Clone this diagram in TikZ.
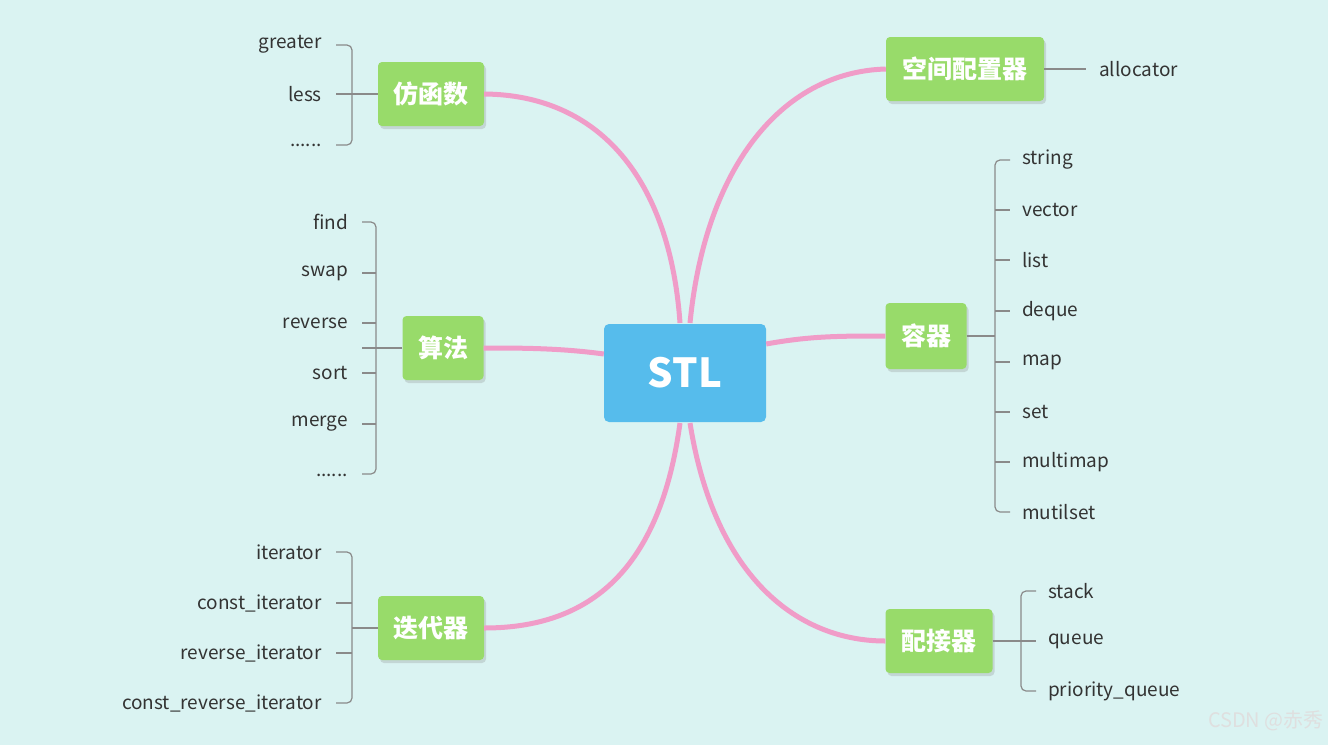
\documentclass[tikz,border=0pt]{standalone}
\usepackage{fontspec}
\setmainfont{Noto Sans CJK SC}
\usetikzlibrary{shadows}
\definecolor{bg}{HTML}{DAF3F2}
\definecolor{stlc}{HTML}{56BCEC}
\definecolor{gr}{HTML}{98DB6A}
\definecolor{pk}{HTML}{F09CC8}
\definecolor{ln}{HTML}{8A8A8A}
\definecolor{tx}{HTML}{333333}
\tikzset{
 topic/.style={fill=gr,rounded corners=4pt,text=white,font=\fontsize{25}{28}\selectfont\bfseries,minimum height=64pt,inner xsep=0pt,drop shadow={shadow xshift=2pt,shadow yshift=-3pt,opacity=0.25}},
 leafL/.style={anchor=east,text=tx,font=\fontsize{19}{22}\selectfont,inner sep=0pt},
 leafR/.style={anchor=west,text=tx,font=\fontsize{19}{22}\selectfont,inner sep=0pt},
 br/.style={draw=ln,line width=1.2pt,rounded corners=5pt},
 tk/.style={draw=ln,line width=1.2pt},
 pl/.style={draw=pk,line width=5pt}
}
\begin{document}
\begin{tikzpicture}[x=1pt,y=-1pt]
\fill[bg] (0,0) rectangle (1328,745);
\useasboundingbox (0,0) rectangle (1328,745);
\node[fill=stlc,rounded corners=5pt,text=white,font=\fontsize{40}{44}\selectfont\bfseries,minimum width=162pt,minimum height=98pt] (stl) at (685,373) {STL};
\node[topic,minimum width=106pt] (fhs) at (431,94) {仿函数};
\node[topic,minimum width=81pt] (sf) at (443,348) {算法};
\node[topic,minimum width=106pt] (ddq) at (431,628) {迭代器};
\node[topic,minimum width=158pt] (kj) at (965,69) {空间配置器};
\node[topic,minimum width=81pt,minimum height=66pt] (rq) at (926,336) {容器};
\node[topic,minimum width=107pt] (pj) at (939,641) {配接器};
% pink connectors
\coordinate (s1) at (680,323);\coordinate (s2) at (690,323);
\coordinate (s3) at (680,423);\coordinate (s4) at (690,423);
\draw[pl] (s1) .. controls (670,180) and (600,95) .. (fhs.east);
\draw[pl] (s2) .. controls (705,170) and (780,72) .. (kj.west);
\draw[pl] (stl.west|-0,354) .. controls (560,348) and (520,348) .. (sf.east);
\draw[pl] (stl.east|-0,344) .. controls (810,336) and (840,336) .. (rq.west);
\draw[pl] (s3) .. controls (660,570) and (590,628) .. (ddq.east);
\draw[pl] (s4) .. controls (715,580) and (800,641) .. (pj.west);
% 仿函数
\coordinate (b1) at (352,94);
\draw[tk] (fhs.west) -- (336,94);
\draw[br] (336,45) -- (352,45) -- (352,145) -- (336,145);
\node[leafL] (a1) at (322,44) {greater};
\node[leafL] (a2) at (322,94) {less};
\node[leafL] (a3) at (322,145) {......};
% 算法
\draw[tk] (sf.west) -- (362,348);
\draw[br] (362,222) -- (376,222) -- (376,474) -- (362,474);
\foreach \y in {273,323,373,424} \draw[tk] (362,\y) -- (376,\y);
\node[leafL] (c1) at (348,222) {find};
\node[leafL] (c2) at (348,273) {swap};
\node[leafL] (c3) at (348,323) {reverse};
\node[leafL] (c4) at (348,373) {sort};
\node[leafL] (c5) at (348,424) {merge};
\node[leafL] (c6) at (348,475) {......};
% 迭代器
\draw[tk] (ddq.west) -- (352,628);
\draw[br] (336,552) -- (352,552) -- (352,703) -- (336,703);
\foreach \y in {603,653} \draw[tk] (336,\y) -- (352,\y);
\node[leafL] (d1) at (322,552) {iterator};
\node[leafL] (d2) at (322,603) {const\_iterator};
\node[leafL] (d3) at (322,653) {reverse\_iterator};
\node[leafL] (d4) at (322,703) {const\_reverse\_iterator};
% 空间配置器
\node[leafR] (e1) at (1099,69) {allocator};
\draw[tk] (kj.east) -- (1086,69);
% 容器
\draw[tk] (rq.east) -- (995,336);
\draw[br] (1010,160) -- (995,160) -- (995,512) -- (1010,512);
\foreach \y in {210,260,311,362,412,462} \draw[tk] (995,\y) -- (1010,\y);
\node[leafR] (f1) at (1022,160) {string};
\node[leafR] (f2) at (1022,210) {vector};
\node[leafR] (f3) at (1022,260) {list};
\node[leafR] (f4) at (1022,311) {deque};
\node[leafR] (f5) at (1022,362) {map};
\node[leafR] (f6) at (1022,412) {set};
\node[leafR] (f7) at (1022,462) {multimap};
\node[leafR] (f8) at (1022,512) {mutilset};
% 配接器
\draw[tk] (pj.east) -- (1036,641);
\draw[br] (1036,591) -- (1021,591) -- (1021,691) -- (1036,691);
\node[leafR] (g1) at (1048,591) {stack};
\node[leafR] (g2) at (1048,641) {queue};
\node[leafR] (g3) at (1048,691) {priority\_queue};
\node[anchor=east,text=white!75!gray,font=\fontsize{20}{22}\selectfont,inner sep=0pt] (wm) at (1324,721) {CSDN @赤秀};
\end{tikzpicture}
\end{document}
